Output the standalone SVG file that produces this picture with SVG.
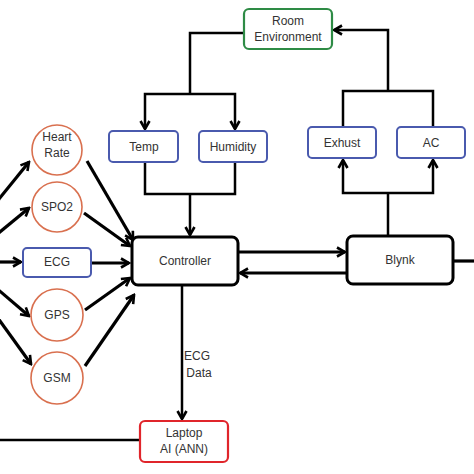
<svg xmlns="http://www.w3.org/2000/svg" width="474" height="474" viewBox="0 0 474 474">
<defs>
<style>
text{font-family:"Liberation Sans",Arial,sans-serif;font-size:12px;fill:#333;text-anchor:middle}
.blue{fill:#fff;stroke:#4a5aae;stroke-width:2}
.org{fill:#fff;stroke:#d9704f;stroke-width:1.6}
.main{fill:#fff;stroke:#000;stroke-width:3}
.c{fill:none;stroke:#000;stroke-width:2.5}
.t{fill:none;stroke:#000;stroke-width:3.2}
.a{marker-end:url(#ah)}
</style>
<marker id="ah" viewBox="0 0 12 12" refX="10" refY="6" markerWidth="12" markerHeight="12" markerUnits="userSpaceOnUse" orient="auto">
<path d="M2,1.5 L10,6 L2,10.5" fill="none" stroke="#000" stroke-width="2.6" stroke-linejoin="miter"/>
</marker>
</defs>
<rect width="474" height="474" fill="#fff"/>
<g id="connectors">
<path class="c" d="M244,33 H190 V94"/>
<path class="c a" d="M190,94 H145 V129"/>
<path class="c a" d="M190,94 H235 V129"/>
<path class="c" d="M343,127 V91 H433 V127"/>
<path class="c a" d="M388,91 V30 H334"/>
<path class="c" d="M145,162 V194 H235 V162"/>
<path class="c a" d="M190,194 V235"/>
<path class="c" d="M388,236 V193"/>
<path class="c a" d="M388,193 H343 V160"/>
<path class="c a" d="M388,193 H433 V160"/>
<path class="t a" d="M238,252 H345"/>
<path class="t a" d="M347,273 H240"/>
<path class="t" d="M453,261 H474"/>
<path class="c a" d="M182,285 V419"/>
<path class="c" d="M140,440 H0"/>
<path class="t a" d="M-5,204 L29,162"/>
<path class="t a" d="M-5,236 L29,208"/>
<path class="t a" d="M-5,262 L21,262"/>
<path class="t a" d="M-5,287 L29,316"/>
<path class="t a" d="M-5,314 L31,364"/>
<path class="t a" d="M87,161 L133,240"/>
<path class="t a" d="M84,213 L130,246"/>
<path class="t a" d="M92,263 L129,263"/>
<path class="t a" d="M85,310 L130,278"/>
<path class="t a" d="M85,366 L134,295"/>
<text x="197" y="360" style="text-anchor:middle">ECG</text>
<text x="199" y="377" style="text-anchor:middle">Data</text>
</g>
<g id="room"><rect x="244" y="9" width="88" height="40" rx="5" fill="#fff" stroke="#2e8b45" stroke-width="2.2"/><text x="288" y="25">Room</text><text x="288" y="41">Environment</text></g>
<g id="temp"><rect class="blue" x="109" y="131" width="69" height="31" rx="4"/><text x="144" y="151">Temp</text></g>
<g id="humidity"><rect class="blue" x="199" y="131" width="68" height="31" rx="4"/><text x="233" y="151">Humidity</text></g>
<g id="exhust"><rect class="blue" x="308" y="127" width="68" height="31" rx="4"/><text x="342" y="147">Exhust</text></g>
<g id="ac"><rect class="blue" x="397" y="127" width="68" height="31" rx="4"/><text x="431" y="147">AC</text></g>
<g id="controller"><rect class="main" x="132" y="237" width="106" height="48" rx="6"/><text x="185" y="265">Controller</text></g>
<g id="blynk"><rect class="main" x="347" y="236" width="106" height="48" rx="6"/><text x="400" y="264">Blynk</text></g>
<g id="heart"><circle class="org" cx="57" cy="150" r="25"/><text x="57" y="141">Heart</text><text x="57" y="157">Rate</text></g>
<g id="spo2"><circle class="org" cx="57" cy="207" r="25"/><text x="57" y="211">SPO2</text></g>
<g id="ecg"><rect class="blue" x="23" y="248" width="68" height="29" rx="4"/><text x="57" y="266">ECG</text></g>
<g id="gps"><circle class="org" cx="57" cy="315" r="26"/><text x="57" y="319">GPS</text></g>
<g id="gsm"><circle class="org" cx="57" cy="378" r="26"/><text x="57" y="382">GSM</text></g>
<g id="laptop"><rect x="140" y="421" width="88" height="41" rx="5" fill="#fff" stroke="#e0252b" stroke-width="2.2"/><text x="184" y="437">Laptop</text><text x="184" y="453">AI (ANN)</text></g>
</svg>
